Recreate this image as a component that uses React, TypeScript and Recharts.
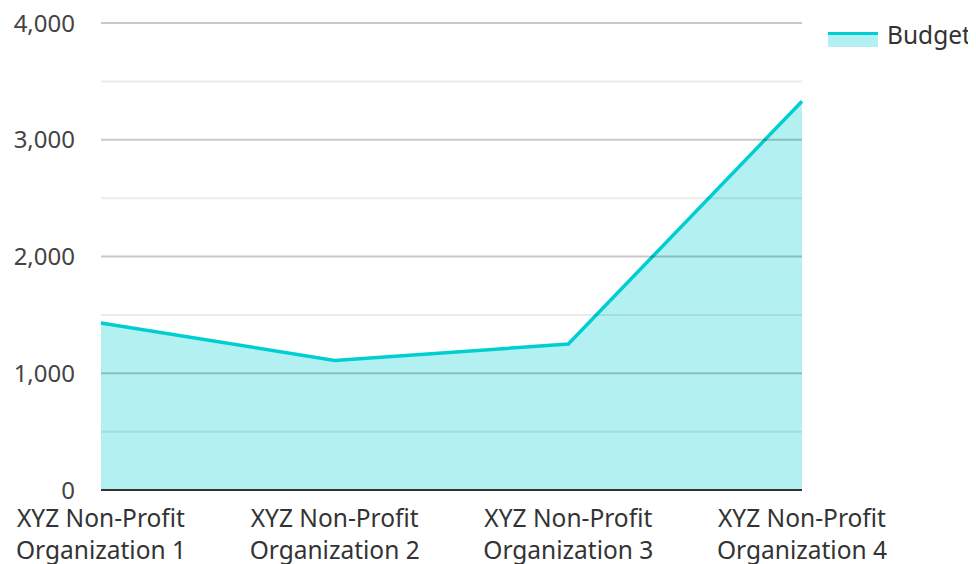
import { AreaChart, Area, XAxis, YAxis, ReferenceLine } from 'recharts';

const organizations = [
  'XYZ Non-Profit Organization 1',
  'XYZ Non-Profit Organization 2',
  'XYZ Non-Profit Organization 3',
  'XYZ Non-Profit Organization 4',
];
const budget = [1430, 1110, 1250, 3330];
const yTicks = [0, 1000, 2000, 3000, 4000];
const minorLines = [500, 1500, 2500, 3500];

const TEAL = '#00CED1';
const FONT = '"Noto Sans", "Open Sans", sans-serif';

const chartData = organizations.map((name, i) => ({ name, budget: budget[i] }));

function OrgTick(props: any) {
  const { x, y, payload } = props;
  const label: string = payload.value;
  const idx = label.indexOf(' Organization');
  const first = idx >= 0 ? label.slice(0, idx) : label;
  const second = idx >= 0 ? label.slice(idx + 1) : '';
  return (
    <text x={x} y={y} textAnchor="middle" fill="#333" fontSize={24.5} fontFamily={FONT}>
      <tspan x={x} dy={37}>{first}</tspan>
      <tspan x={x} dy={32}>{second}</tspan>
    </text>
  );
}

function BudgetLegend() {
  return (
    <div
      style={{
        position: 'absolute',
        top: 12,
        left: 820,
        display: 'flex',
        alignItems: 'center',
        fontFamily: FONT,
      }}
    >
      <svg width={50} height={24} style={{ display: 'block' }}>
        <rect x={0} y={10} width={50} height={14} fill={TEAL} fillOpacity={0.3} />
        <line x1={0} x2={50} y1={10.5} y2={10.5} stroke={TEAL} strokeWidth={3} />
      </svg>
      <span style={{ marginLeft: 9, fontSize: 24.5, color: '#333', lineHeight: '30px' }}>Budget</span>
    </div>
  );
}

export default function App() {
  return (
    <div style={{ position: 'relative', width: 968, height: 556 }}>
      <AreaChart
        width={968}
        height={556}
        data={chartData}
        margin={{ top: 15, right: 174, bottom: 0, left: 0 }}
      >
        <XAxis
          dataKey="name"
          height={74}
          tick={<OrgTick />}
          tickLine={false}
          tickSize={0}
          tickMargin={0}
          axisLine={{ stroke: '#333', strokeWidth: 2 }}
          interval={0}
        />
        <YAxis
          width={93}
          domain={[0, 4000]}
          ticks={yTicks}
          axisLine={false}
          tickLine={false}
          tickSize={0}
          tickMargin={26}
          tickFormatter={(v: number) => v.toLocaleString('en-US')}
          tick={{ fill: '#444', fontSize: 24, fontFamily: FONT }}
        />
        <Area
          type="linear"
          dataKey="budget"
          name="Budget"
          stroke={TEAL}
          strokeWidth={3.5}
          fill={TEAL}
          fillOpacity={0.3}
          dot={false}
          activeDot={false}
          isAnimationActive={false}
        />
        {minorLines.map((v) => (
          <ReferenceLine key={'m' + v} y={v} stroke="rgba(0,0,0,0.08)" strokeWidth={2} />
        ))}
        {yTicks.slice(1).map((v) => (
          <ReferenceLine key={'M' + v} y={v} stroke="rgba(0,0,0,0.21)" strokeWidth={2} />
        ))}
      </AreaChart>
      <BudgetLegend />
    </div>
  );
}
